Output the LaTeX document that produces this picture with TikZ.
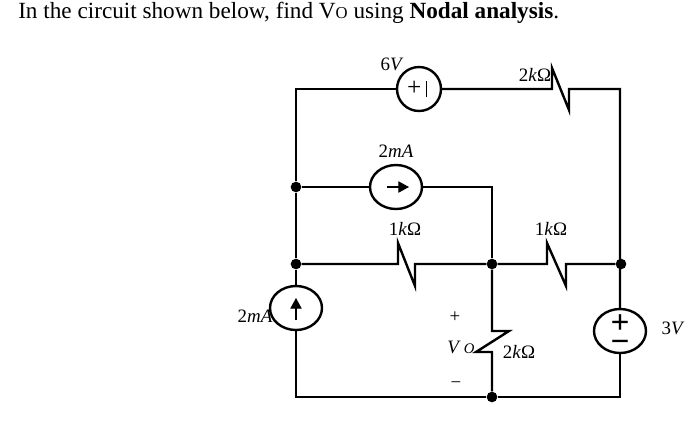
\documentclass[tikz,border=0pt]{standalone}
\usepackage{fontspec}
\setmainfont{Liberation Serif}
\usetikzlibrary{shapes.geometric}
\usetikzlibrary{arrows.meta}
\tikzset{
	wire/.style={line width=1.8pt,black,line join=miter},
	source/.style={ellipse,draw,line width=1.8pt,fill=white,inner sep=0pt,minimum width=39pt,minimum height=33pt},
	joint/.style={circle,fill=black,inner sep=0pt,minimum size=8pt},
	lbl/.style={font=\fontsize{14.2}{16}\selectfont,inner sep=0pt},
	pointer/.style={line width=0.9pt,-{Triangle[length=8pt,width=8.5pt]}}
}
\begin{document}
\begin{tikzpicture}[x=0.75pt,y=-0.75pt]
\useasboundingbox (0,0) rectangle (700,444);
%%%  title
\node[anchor=base west,inner sep=0pt,font=\fontsize{17.4}{20}\selectfont] (title) at (18,18)
	{In the circuit shown below, find V{\fontsize{12.5}{14}\selectfont O} using \textbf{Nodal analysis}.};

%%%  define corners with coordinates
\foreach \n/\x/\y in {tl/296/89,tr/620/89,ml/492/187,bl/296/397,br/620/397,
	ra1/552/89,ra2/552/68,ra3/569/110,ra4/569/89,
	rb1/398/264,rb2/398/243,rb3/415/286,rb4/415/264,
	rc1/547/264,rc2/547/243,rc3/566/286,rc4/566/264,
	rd1/492/331,rd2/509/331,rd3/476/352,rd4/492/352}{%
	\coordinate (\n) at (\x,\y);
}

%%%%%%%%% sources %%%%%%%%
\node[source,minimum width=33pt] (vs) at (419,89) {};
\node[source] (is) at (396,187) {};
\node[source] (il) at (296,308) {};
\node[source] (vr) at (620,331) {};

%%%%%%%%% joints %%%%%%%%
\node[joint] (j1) at (296,187) {};
\node[joint] (j2) at (296,264) {};
\node[joint] (j3) at (492,264) {};
\node[joint] (j4) at (621,264) {};
\node[joint] (j5) at (492,397) {};

%%%%%%%%% draw lines %%%%%%%%
\draw[wire] (j1) -- (tl) -- (vs.west);
\draw[wire] (vs.east) -- (ra1) -- (ra2) -- (ra3) -- (ra4) -- (tr) -- (tr|-j4) -- (vr.north);
\draw[wire] (vr.south) -- (br) -- (j5);
\draw[wire] (j1) -- (is.west);
\draw[wire] (is.east) -- (ml) -- (j3);
\draw[wire] (j1) -- (j2) -- (il.north);
\draw[wire] (il.south) -- (bl) -- (j5);
\draw[wire] (j2) -- (rb1) -- (rb2) -- (rb3) -- (rb4) -- (j3);
\draw[wire] (j3) -- (rc1) -- (rc2) -- (rc3) -- (rc4) -- (j4);
\draw[wire] (j3) -- (rd1) -- (rd2) -- (rd3) -- (rd4) -- (j5);

%%%%%%%%% marks inside the sources %%%%%%%%
\coordinate (isa) at (387,187);
\coordinate (isb) at (409,187);
\coordinate (ila) at (296,320);
\coordinate (ilb) at (296,298);
\draw[pointer] (isa) -- (isb);
\draw[pointer] (ila) -- (ilb);
\node[lbl,font=\fontsize{19}{20}\selectfont] (vsp) at (417,89) {+\,\rule[-1pt]{0.8pt}{12pt}};
\node[lbl,align=center,font=\bfseries\fontsize{25}{14}\selectfont] (vrp) at (620,333.5) {+\\\textminus};

%%%%%%%%% labels %%%%%%%%
\node[lbl] (l1) at (392,64) {6\textit{V}};
\node[lbl] (l2) at (396,151) {2\textit{mA}};
\node[lbl] (l3) at (405,229) {1\textit{k}Ω};
\node[lbl] (l4) at (535,75) {2\textit{k}Ω};
\node[lbl] (l5) at (551,229) {1\textit{k}Ω};
\node[lbl] (l6) at (255,316) {2\textit{mA}};
\node[lbl] (l7) at (519,352) {2\textit{k}Ω};
\node[lbl] (l8) at (673,328) {3\textit{V}};
\node[lbl] (l9) at (455,317) {+};
\node[lbl] (l10) at (461,347) {\textit{V}\,{\fontsize{11}{12}\selectfont\textit{O}}};
\node[lbl] (l11) at (456,385) {\textminus};
\end{tikzpicture}
\end{document}
